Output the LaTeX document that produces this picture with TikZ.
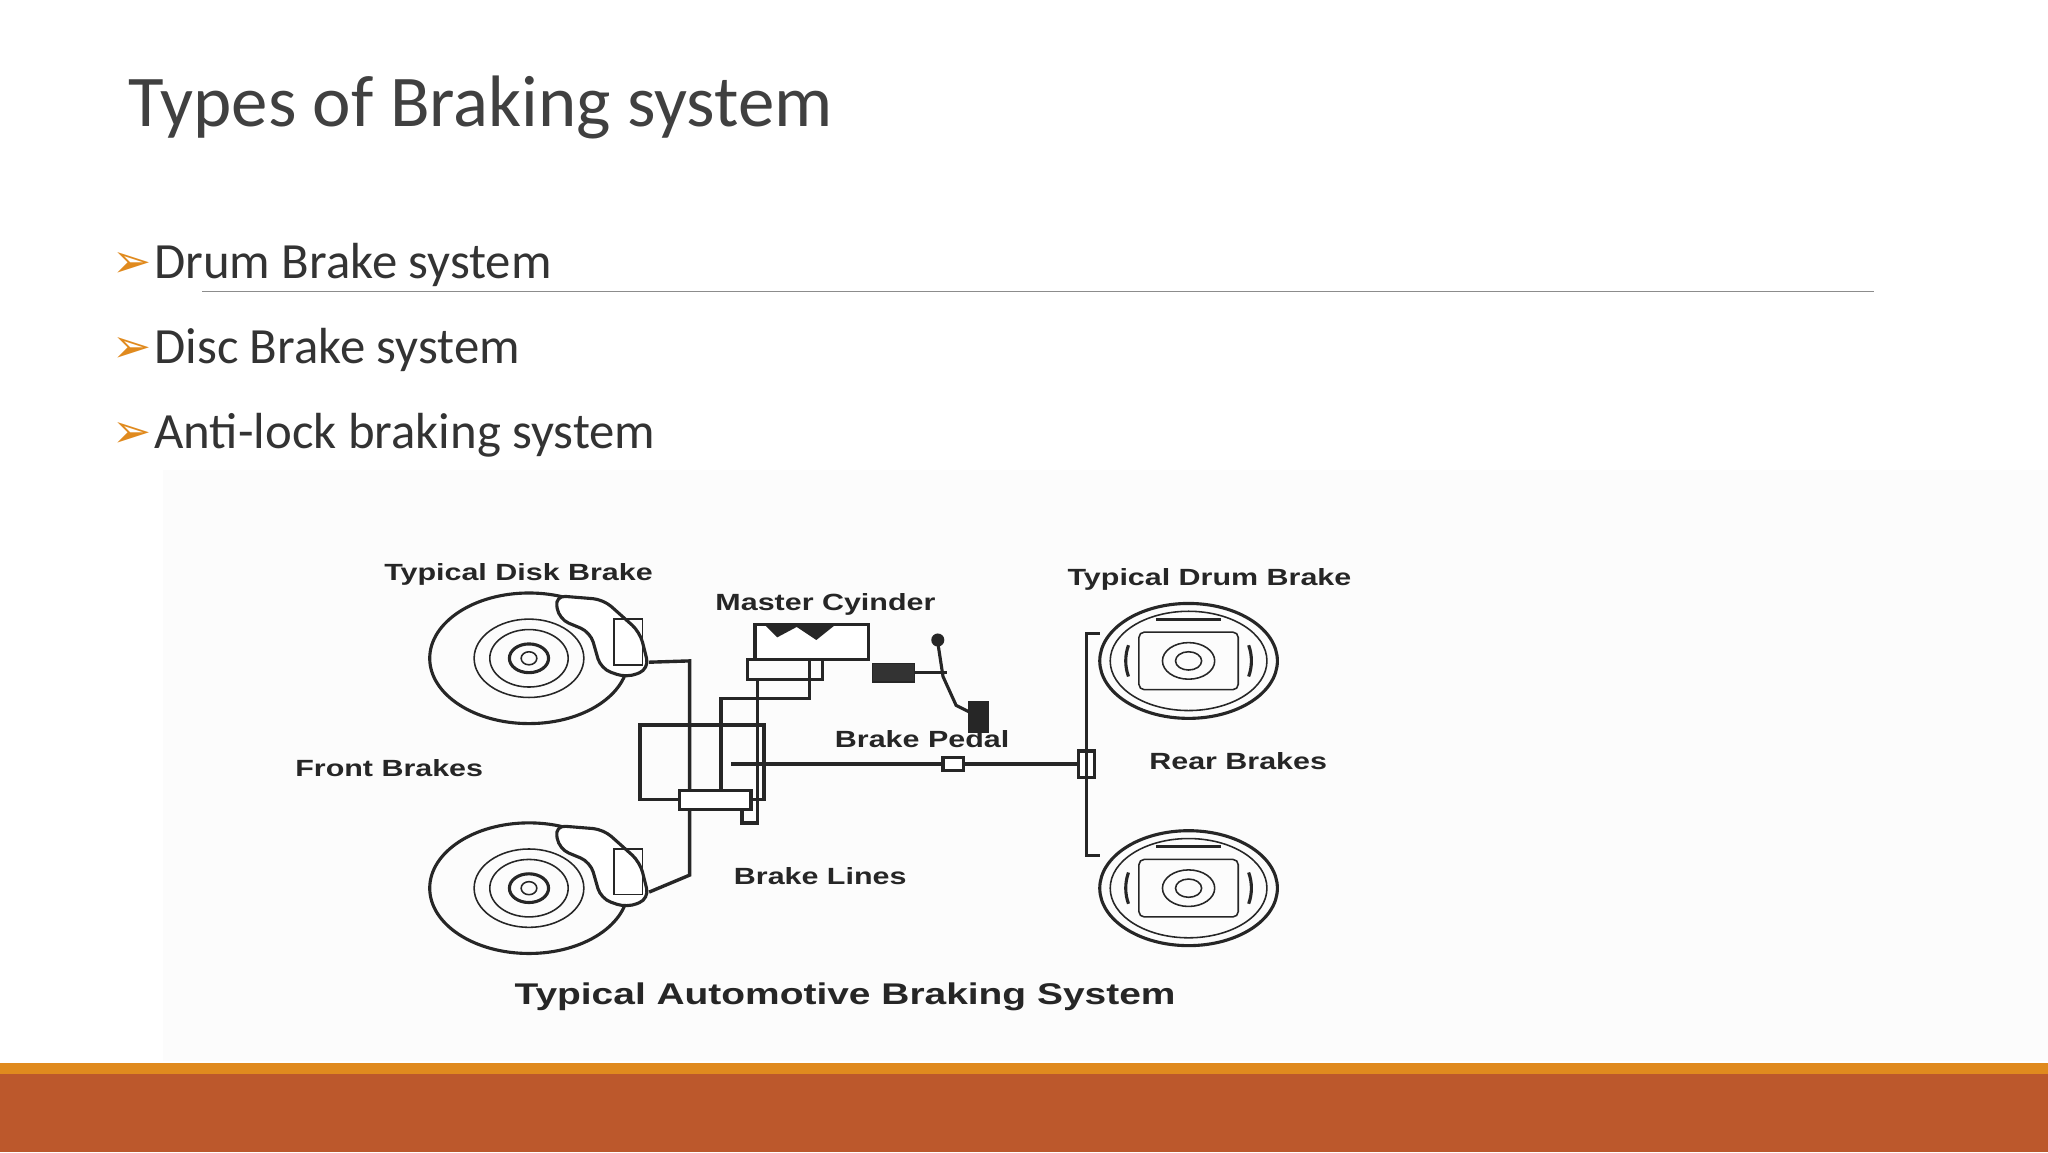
\documentclass[tikz,border=0pt]{standalone}
\usepackage{fontspec}
\setmainfont{Carlito}
\newfontfamily\arialb[FakeStretch=1.3]{Liberation Sans}
\newfontfamily\symf{DejaVu Sans}
\definecolor{orng}{RGB}{224,138,30}
\definecolor{rust}{RGB}{188,88,44}
\begin{document}
\begin{tikzpicture}[x=1bp,y=-1bp,
  lbl/.style={font=\arialb\bfseries\fontsize{18}{20}\selectfont,text=black!85,inner sep=0},
  bul/.style={font=\fontsize{39}{42}\selectfont,text=black!80,anchor=west,inner sep=0},
  ln/.style={line width=2.6pt,black!85},
  thick2/.style={line width=2.4pt,black!85},
  thin2/.style={line width=1.2pt,black!85}]
\useasboundingbox (0,0) rectangle (1568,882);
\fill[white] (0,0) rectangle (1568,882);
\fill[black!1] (125,360) rectangle (1568,812);
\fill[orng] (0,814) rectangle (1568,822);
\fill[rust] (0,822) rectangle (1568,882);
\node[anchor=west,inner sep=0,font=\fontsize{56}{60}\selectfont,text=black!75] (title) at (98,82) {Types of Braking system};
\draw[black!45,line width=0.8pt] (155,223) -- (1435,223);
\foreach \yy/\tt/\nm in {203/Drum Brake system/b1,268/Disc Brake system/b2,333/Anti-lock braking system/b3}{
  \node[anchor=west,inner sep=0,text=orng,font=\symf\fontsize{36}{38}\selectfont] (a\nm) at (86,\yy) {➢};
  \node[bul] (\nm) at (118,\yy) {\tt};
}
% disk brakes
\foreach \cy/\nm in {504/d1,680/d2}{
  \draw[thick2] (405,\cy) ellipse [x radius=76,y radius=50];
  \draw[thin2] (405,\cy) ellipse [x radius=42,y radius=30];
  \draw[thin2] (405,\cy) ellipse [x radius=30,y radius=22];
  \draw[thick2] (405,\cy) ellipse [x radius=15,y radius=11];
  \draw[thin2] (405,\cy) ellipse [x radius=6,y radius=5];
  \draw[thick2,fill=white,rounded corners=8] (425,\cy-48) -- (462,\cy-45) -- (490,\cy-20) -- (497,\cy+8) -- (480,\cy+15) -- (460,\cy+8) -- (452,\cy-20) -- (428,\cy-30) -- cycle;
  \draw[thin2] (470,\cy-30) rectangle (492,\cy+5);
  \coordinate (\nm) at (497,\cy+3);
}
% drum brakes
\foreach \cy/\nm in {506/r1,680/r2}{
  \draw[thick2] (910,\cy) ellipse [x radius=68,y radius=44];
  \draw[thin2] (910,\cy) ellipse [x radius=60,y radius=38];
  \draw[thin2] (910,\cy) ellipse [x radius=20,y radius=14];
  \draw[thin2] (910,\cy) ellipse [x radius=10,y radius=7];
  \draw[thin2,rounded corners=4] (872,\cy-22) rectangle (948,\cy+22);
  \draw[thick2] (885,\cy-32) -- (935,\cy-32);
  \draw[thick2] (864,\cy-12) arc (200:160:35);
  \draw[thick2] (956,\cy-12) arc (-20:20:35);
  \coordinate (\nm) at (842,\cy);
}
% master cylinder
\draw[thick2,fill=white] (578,478) rectangle (665,505);
\fill[black!85] (585,478) -- (595,488) -- (610,480) -- (625,490) -- (640,478) -- cycle;
\draw[thick2] (572,505) rectangle (630,520);
\draw[thin2,fill=black!80] (668,508) rectangle (700,522);
\draw[thick2] (700,515) -- (725,515);
\draw[thick2] (718,492) -- (722,518) -- (732,540) -- (748,548);
\fill[black!85] (718,490) circle (5);
\draw[thick2,fill=black!85] (742,538) rectangle (756,560);
\coordinate (mc) at (580,520);
% brake lines
\draw[ln] (d1) -- (528,506) -- (528,670) -- (d2);
\draw[ln] (490,555) rectangle (585,612);
\draw[ln] (mc) -- (580,630) -- (568,630) -- (568,612);
\draw[ln] (620,505) -- (620,535) -- (552,535) -- (552,612);
\draw[thick2,fill=white] (520,605) rectangle (575,620);
\draw[ln] (560,585) -- (832,585);
\draw[thick2,fill=white] (722,580) rectangle (738,590);
\draw[thick2,fill=white] (826,575) rectangle (838,595);
\draw[ln] (842,485) -- (832,485) -- (832,655) -- (842,655);
% labels
\node[lbl] (l1) at (397,440) {Typical Disk Brake};
\node[lbl] (l2) at (632,463) {Master Cyinder};
\node[lbl] (l3) at (926,444) {Typical Drum Brake};
\node[lbl] (l4) at (298,588) {Front Brakes};
\node[lbl] (l5) at (706,566) {Brake Pedal};
\node[lbl] (l6) at (948,583) {Rear Brakes};
\node[lbl] (l7) at (628,671) {Brake Lines};
\node[lbl,font=\arialb\bfseries\fontsize{23}{25}\selectfont] (l8) at (647,763) {Typical Automotive Braking System};
\end{tikzpicture}
\end{document}
